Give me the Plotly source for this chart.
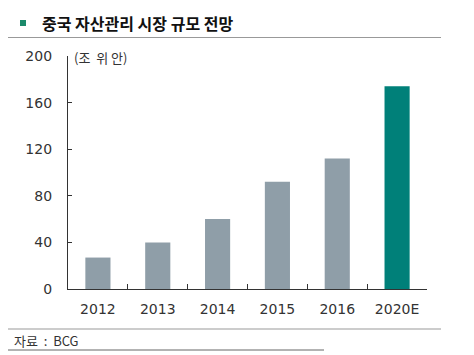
import plotly.graph_objects as go

categories = ["2012", "2013", "2014", "2015", "2016", "2020E"]
values = [27, 40, 60, 92, 112, 174]
colors = ["#8f9ea8", "#8f9ea8", "#8f9ea8", "#8f9ea8", "#8f9ea8", "#008079"]
y_ticks = [0, 40, 80, 120, 160, 200]

W, H = 474, 355
L, R, T, B = 60, 55, 48, 74
fig = go.Figure(go.Bar(x=categories, y=values, marker=dict(color=colors, line=dict(width=0)),
                       width=0.42))

font = "Noto Sans CJK KR"
fig.update_layout(
    width=W, height=H, autosize=False,
    margin=dict(l=L, r=R, t=T, b=B),
    paper_bgcolor="white", plot_bgcolor="white",
    showlegend=False,
    font=dict(family=font, size=13, color="#333333"),
)
tickfont = dict(size=14, family="DejaVu Sans", color="#333333")
fig.update_xaxes(
    type="category", showline=True, linecolor="#333333", linewidth=1.2,
    ticks="inside", ticklen=5, tickcolor="#333333", tickson="boundaries",
    showgrid=False, tickfont=tickfont, ticklabelstandoff=7,
)
fig.update_yaxes(
    range=[0, 200], tickvals=y_ticks, showline=True, linecolor="#333333", linewidth=1.2,
    ticks="inside", ticklen=4, tickcolor="#333333", showgrid=False, zeroline=False,
    tickfont=tickfont, ticklabelstandoff=12,
)

def px(x):
    return (x - L) / (W - L - R)
def py(y):
    return (H - B - y) / (H - T - B)

shapes = [
    dict(type="rect", xref="paper", yref="paper", x0=px(12), x1=px(18), y0=py(18), y1=py(12),
         line=dict(width=0), fillcolor="#1b8a6b"),
    dict(type="line", xref="paper", yref="paper", x0=px(0), x1=px(433), y0=py(29.5), y1=py(29.5),
         line=dict(color="#999999", width=1.2)),
    dict(type="line", xref="paper", yref="paper", x0=px(0), x1=px(433), y0=py(321), y1=py(321),
         line=dict(color="#999999", width=1)),
    dict(type="line", xref="paper", yref="paper", x0=px(0), x1=px(316), y0=py(342), y1=py(342),
         line=dict(color="#666666", width=1)),
]
annotations = [
    dict(text="<b>중국 자산관리 시장 규모 전망</b>", xref="paper", yref="paper", x=px(32), y=py(15),
         xanchor="left", yanchor="middle", showarrow=False,
         font=dict(size=16, family=font, color="#111111")),
    dict(text="(조  위 안)", xref="paper", yref="paper", x=px(64), y=py(50),
         xanchor="left", yanchor="middle", showarrow=False,
         font=dict(size=13, family=font, color="#333333")),
    dict(text="자료  :  BCG", xref="paper", yref="paper", x=px(4), y=py(332),
         xanchor="left", yanchor="middle", showarrow=False,
         font=dict(size=13, family=font, color="#333333")),
]
fig.update_layout(shapes=shapes, annotations=annotations)
fig.write_html("out.html")
